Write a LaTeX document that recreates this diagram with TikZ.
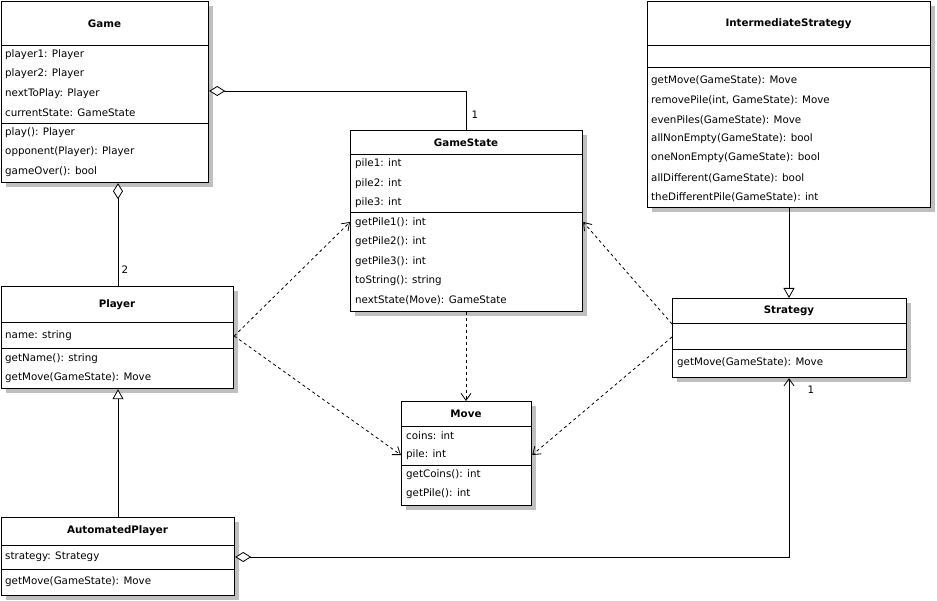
\documentclass[tikz,border=0pt]{standalone}
\usepackage{fontspec}
\setmainfont{DejaVu Sans}
\usetikzlibrary{arrows.meta,calc}
\begin{document}
\begin{tikzpicture}[x=1pt,y=-1pt,
  cls/.style={draw,line width=1.2pt,fill=white,anchor=north west,inner sep=0pt},
  shadow/.style={fill=black!25,draw=none},
  txt/.style={anchor=west,inner sep=0pt,font=\fontsize{10.3}{12}\selectfont},
  ttl/.style={inner sep=0pt,font=\fontsize{10.3}{12}\selectfont\bfseries},
  dep/.style={dashed,line width=0.8pt,-{Straight Barb[length=7pt,width=10pt]}},
  gen/.style={line width=0.8pt,-{Triangle[open,length=10pt,width=11pt,fill=white]}},
  agg/.style={line width=0.8pt,{Diamond[open,length=16pt,width=10pt,fill=white]}-},
  nav/.style={line width=0.8pt,{Diamond[open,length=16pt,width=10pt,fill=white]}-{Straight Barb[length=7pt,width=10pt]}},
  lbl/.style={inner sep=0pt,font=\fontsize{10.3}{12}\selectfont}]
\useasboundingbox (0,0) rectangle (937,601);
% class box macro: name, x1,y1,x2,y2, sep1, sep2, title
\newcommand{\umlcls}[8]{%
  \fill[shadow] (#2+5,#3+5) rectangle (#4+5,#5+5);
  \node[cls,minimum width=#4-#2,minimum height=#5-#3] (#1) at (#2,#3) {};
  \draw[line width=1pt] (#2,#6) -- (#4,#6) (#2,#7) -- (#4,#7);
  \node[ttl] (#1-t) at ({(#2+#4)/2},{(#3+#6)/2}) {#8};
}
\newcommand{\umlln}[4]{\node[txt] (#1) at (#2,#3) {#4};}

\umlcls{game}{1}{1}{208}{182}{46}{124}{Game}
\umlln{g1}{5}{55}{player1: Player}
\umlln{g2}{5}{74}{player2: Player}
\umlln{g3}{5}{94}{nextToPlay: Player}
\umlln{g4}{5}{113}{currentState: GameState}
\umlln{g5}{5}{133}{play(): Player}
\umlln{g6}{5}{152}{opponent(Player): Player}
\umlln{g7}{5}{172}{gameOver(): bool}

\umlcls{gs}{350}{130}{582}{311}{155}{213}{GameState}
\umlln{s1}{355}{164}{pile1: int}
\umlln{s2}{355}{184}{pile2: int}
\umlln{s3}{355}{203}{pile3: int}
\umlln{s4}{355}{223}{getPile1(): int}
\umlln{s5}{355}{242}{getPile2(): int}
\umlln{s6}{355}{262}{getPile3(): int}
\umlln{s7}{355}{281}{toString(): string}
\umlln{s8}{355}{300}{nextState(Move): GameState}

\umlcls{is}{647}{1}{930}{207}{46}{68}{IntermediateStrategy}
\umlln{i1}{651}{81}{getMove(GameState): Move}
\umlln{i2}{651}{100}{removePile(int, GameState): Move}
\umlln{i3}{651}{120}{evenPiles(GameState): Move}
\umlln{i4}{651}{139}{allNonEmpty(GameState): bool}
\umlln{i5}{651}{158}{oneNonEmpty(GameState): bool}
\umlln{i6}{651}{178}{allDifferent(GameState): bool}
\umlln{i7}{651}{197}{theDifferentPile(GameState): int}

\umlcls{pl}{1}{286}{233}{388}{323}{349}{Player}
\umlln{p1}{5}{336}{name: string}
\umlln{p2}{5}{359}{getName(): string}
\umlln{p3}{5}{378}{getMove(GameState): Move}

\umlcls{st}{672}{298}{906}{377}{324}{350}{Strategy}
\umlln{t1}{677}{363}{getMove(GameState): Move}

\umlcls{mv}{401}{401}{531}{505}{426}{465}{Move}
\umlln{m1}{406}{436}{coins: int}
\umlln{m2}{406}{455}{pile: int}
\umlln{m3}{406}{475}{getCoins(): int}
\umlln{m4}{406}{494}{getPile(): int}

\umlcls{ap}{1}{517}{234}{595}{545}{569}{AutomatedPlayer}
\umlln{a1}{5}{557}{strategy: Strategy}
\umlln{a2}{5}{582}{getMove(GameState): Move}

% connectors
\coordinate (c1) at (466,91);
\draw[agg] (game.east |- c1) -- (c1) -- (c1 |- gs.north);
\node[lbl] at (475,115) {1};
\draw[agg] (game.south -| 118,0) -- (118,0 |- pl.north);
\node[lbl] at (125,270) {2};
\draw[dep] (pl.east |- 0,336) -- (gs.west |- 0,222);
\draw[dep] (pl.east |- 0,336) -- (mv.west |- 0,455);
\draw[dep] (gs.south -| 466,0) -- (466,0 |- mv.north);
\draw[dep] (st.west |- 0,324) -- (gs.east |- 0,222);
\draw[dep] (st.west |- 0,337) -- (mv.east |- 0,455);
\draw[gen] (is.south -| 789,0) -- (789,0 |- st.north);
\draw[gen] (ap.north -| 118,0) -- (118,0 |- pl.south);
\coordinate (c2) at (789,557);
\draw[nav] (ap.east |- c2) -- (c2) -- (c2 |- st.south);
\node[lbl] at (811,390) {1};
\end{tikzpicture}
\end{document}
